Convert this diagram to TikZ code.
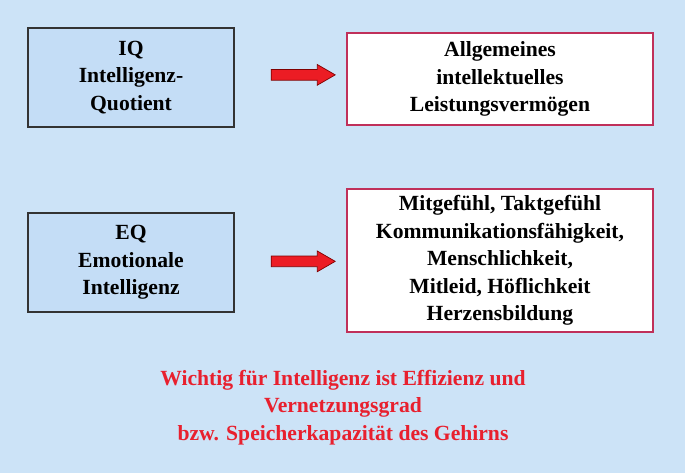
\documentclass[tikz,border=0pt]{standalone}
\usepackage{fontspec}
\setmainfont{Liberation Serif}
\usetikzlibrary{positioning,shapes.arrows}

\definecolor{bgblue}{HTML}{CCE3F7}
\definecolor{boxblue}{HTML}{C4DDF6}
\definecolor{frame red}{HTML}{C0305A}
\definecolor{arrow red}{HTML}{EC1C24}
\definecolor{text red}{HTML}{E8202E}

\begin{document}
\begin{tikzpicture}[node distance=7.38cm,
		every node/.style={font=\bfseries\fontsize{12.3}{15.6}\selectfont, align=center},
		left node/.style={rectangle, draw=black!80, line width=0.6pt, fill=boxblue,
			minimum width=4.12cm, minimum height=1.98cm},
		right node/.style={rectangle, draw=frame red, line width=1.2pt, fill=white,
			minimum width=6.12cm, inner sep=0pt},
		fat arrow/.style={single arrow, draw=red!50!black, line width=0.4pt, fill=arrow red,
			inner xsep=0pt, inner ysep=0.1cm, minimum height=1.28cm,
			single arrow head extend=0.1cm, single arrow tip angle=60}]

		\fill[bgblue] (0,0) rectangle (13.7,-9.46);

		\node[left node] (iq) at (2.62,-1.55) {IQ\\Intelligenz-\\Quotient};
		\node[right node, minimum height=1.84cm] (ig) [right of=iq, yshift=-0.03cm] {Allgemeines\\intellektuelles\\Leistungsverm\"ogen};
		\node[left node] (eq) [below of=iq, node distance=3.7cm] {EQ\\Emotionale\\Intelligenz};
		\node[right node, minimum height=2.86cm] (eg) [right of=eq, yshift=0.04cm] {Mitgef\"uhl, Taktgef\"uhl\\Kommunikationsf\"ahigkeit,\\Menschlichkeit,\\Mitleid, H\"oflichkeit\\Herzensbildung};

		\path (iq.east) -- node[fat arrow, pos=0.575, yshift=0.07cm] (a1) {} (ig.west);
		\path (eq.east) -- node[fat arrow, pos=0.575] (a2) {} (eg.west);

		\node[text=text red] (note) at (6.86,-8.15) {Wichtig f\"ur Intelligenz ist Effizienz und\\Vernetzungsgrad\\bzw. Speicherkapazit\"at des Gehirns};
\end{tikzpicture}
\end{document}
